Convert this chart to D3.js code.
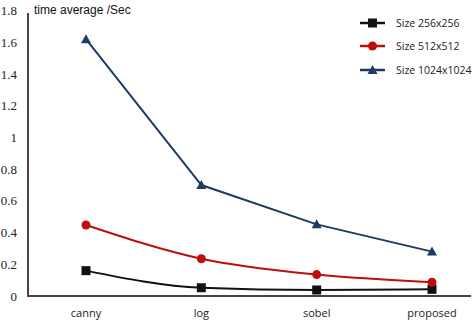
<!DOCTYPE html>
<html>
<head>
<meta charset="utf-8">
<script src="https://cdn.jsdelivr.net/npm/d3@7/dist/d3.min.js"></script>
<style>
  html, body { margin: 0; padding: 0; background: #fff; }
  svg { display: block; }
</style>
</head>
<body>
<svg id="chart" width="474" height="325"></svg>
<script>
// Edge detectors compared
const categories = ["canny", "log", "sobel", "proposed"];

// Average running time (seconds) per image size
const size256 = [0.16, 0.052, 0.038, 0.042];
const size512 = [0.448, 0.235, 0.135, 0.087];
const size1024 = [1.62, 0.70, 0.452, 0.28];

const seriesNames = ["Size 256x256", "Size 512x512", "Size 1024x1024"];
const yTicks = [0, 0.2, 0.4, 0.6, 0.8, 1, 1.2, 1.4, 1.6, 1.8];

const series = [
  { name: seriesNames[0], values: size256, color: "#111111", marker: "square", curve: d3.curveMonotoneX },
  { name: seriesNames[1], values: size512, color: "#c00d0d", marker: "circle", curve: d3.curveMonotoneX },
  { name: seriesNames[2], values: size1024, color: "#1f3a64", marker: "triangle", curve: d3.curveLinear }
];

const svg = d3.select("#chart");

const x = d3.scalePoint().domain(categories).range([86, 432]);
const y = d3.scaleLinear().domain([0, 1.8]).range([296, 10.7]);

// Axes
const axisColor = "#444";
svg.append("line")
  .attr("x1", 28).attr("x2", 28)
  .attr("y1", 13).attr("y2", 297)
  .attr("stroke", axisColor).attr("stroke-width", 2);
svg.append("line")
  .attr("x1", 27).attr("x2", 471)
  .attr("y1", 296).attr("y2", 296)
  .attr("stroke", axisColor).attr("stroke-width", 2);

// Y tick labels
svg.append("g").selectAll("text")
  .data(yTicks)
  .join("text")
  .attr("x", 17)
  .attr("y", d => y(d))
  .attr("dy", "0.35em")
  .attr("text-anchor", "end")
  .attr("font-family", "Liberation Serif, DejaVu Serif, serif")
  .attr("font-size", 13)
  .attr("fill", "#222")
  .text(d => d3.format("")(d));

// Category labels
svg.append("g").selectAll("text")
  .data(categories)
  .join("text")
  .attr("x", d => x(d))
  .attr("y", 313)
  .attr("dy", "0.35em")
  .attr("text-anchor", "middle")
  .attr("font-family", "Open Sans, Liberation Sans, sans-serif")
  .attr("font-size", 11)
  .attr("fill", "#222")
  .text(d => d);

// Axis title
svg.append("text")
  .attr("x", 34)
  .attr("y", 10)
  .attr("dy", "0.35em")
  .attr("font-family", "Liberation Sans, Arial, sans-serif")
  .attr("font-size", 12)
  .attr("fill", "#111")
  .text("time average /Sec");

function drawMarker(g, type, cx, cy, color) {
  if (type === "square") {
    g.append("rect").attr("x", cx - 4.5).attr("y", cy - 4.5)
      .attr("width", 9).attr("height", 9).attr("fill", color);
  } else if (type === "circle") {
    g.append("circle").attr("cx", cx).attr("cy", cy).attr("r", 4.5).attr("fill", color);
  } else {
    g.append("path")
      .attr("d", `M${cx},${cy - 5}L${cx + 5},${cy + 4}L${cx - 5},${cy + 4}Z`)
      .attr("fill", color);
  }
}

series.forEach(s => {
  const line = d3.line()
    .x((d, i) => x(categories[i]))
    .y(d => y(d))
    .curve(s.curve);
  const g = svg.append("g");
  g.append("path")
    .datum(s.values)
    .attr("d", line)
    .attr("fill", "none")
    .attr("stroke", s.color)
    .attr("stroke-width", 2);
  s.values.forEach((v, i) => drawMarker(g, s.marker, x(categories[i]), y(v), s.color));
});

// Legend
const legendY = [23, 46, 70];
series.forEach((s, i) => {
  const g = svg.append("g");
  g.append("line")
    .attr("x1", 360).attr("x2", 385)
    .attr("y1", legendY[i]).attr("y2", legendY[i])
    .attr("stroke", s.color).attr("stroke-width", 2.5);
  drawMarker(g, s.marker, 372.5, legendY[i], s.color);
  g.append("text")
    .attr("x", 396)
    .attr("y", legendY[i])
    .attr("dy", "0.35em")
    .attr("font-family", "Open Sans, Liberation Sans, sans-serif")
    .attr("font-size", 10.5)
    .attr("fill", "#222")
    .text(s.name);
});
</script>
</body>
</html>
